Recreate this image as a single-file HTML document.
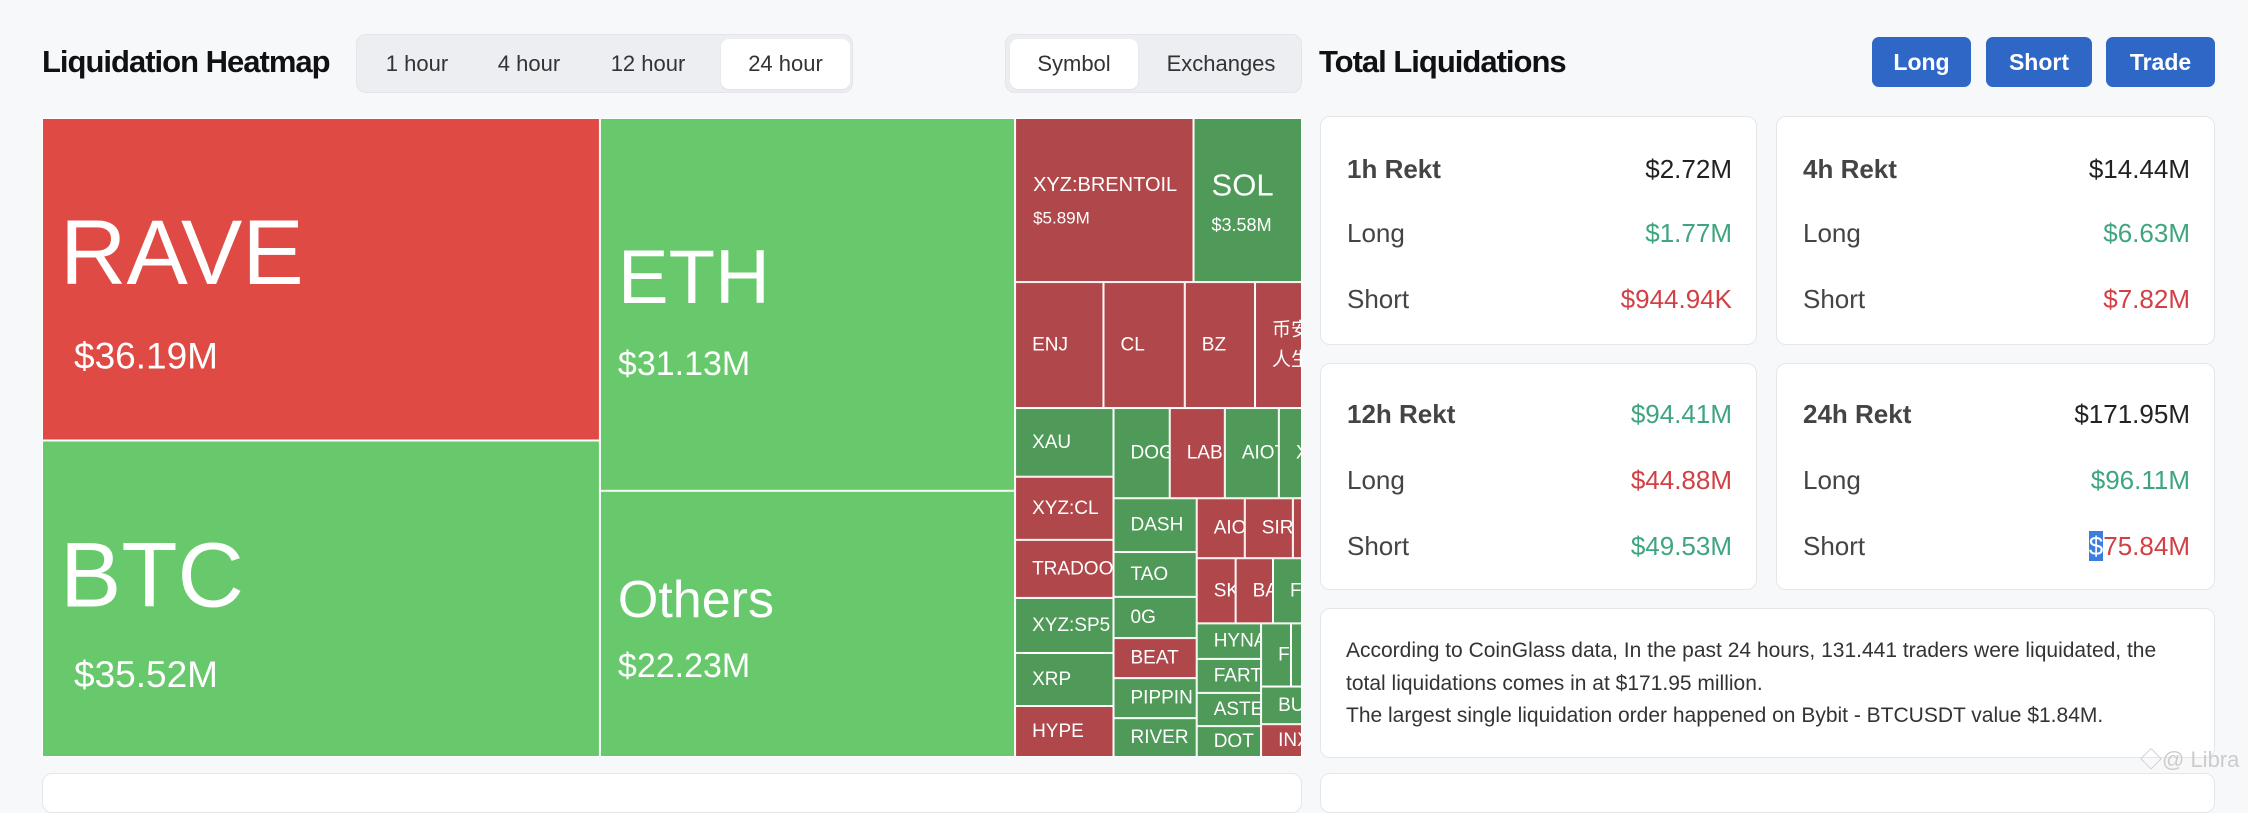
<!DOCTYPE html>
<html><head><meta charset="utf-8">
<style>
*{box-sizing:border-box;margin:0;padding:0}
body{width:2248px;height:780px;background:#f7f8fa;font-family:"Liberation Sans","Noto Sans CJK SC",sans-serif;position:relative;overflow:hidden;color:#222}
.abs{position:absolute}
.h1{font-size:31px;font-weight:bold;letter-spacing:-1px;color:#111}
.grp{background:#eceef2;border-radius:10px;border:1px solid #e3e5e9}
.tab{position:absolute;top:4px;height:50px;line-height:50px;text-align:center;font-size:22px;color:#333;border-radius:8px}
.tab.on{background:#fff;box-shadow:0 1px 2px rgba(0,0,0,.06)}
.btn{position:absolute;top:37px;height:50px;line-height:50px;text-align:center;background:#2f67c7;color:#fff;font-weight:bold;font-size:23px;border-radius:7px}
.card{position:absolute;background:#fff;border:1px solid #e4e6ea;border-radius:10px}
.row{position:absolute;left:26px;right:24px;font-size:26px;color:#444;height:34px;line-height:34px}
.row .v{position:absolute;right:0;top:0;font-weight:normal}
.g{color:#3fa57e}.r{color:#d24045}.k{color:#222}
.b{font-weight:bold}
.para{position:absolute;left:25px;top:26px;font-size:21px;line-height:32.5px;color:#333;width:835px}
</style></head><body>
<div class="abs h1" style="left:42px;top:44px">Liquidation Heatmap</div>
<div class="abs grp" style="left:356px;top:34px;width:497px;height:59px">
 <div class="tab" style="left:8px;width:104px">1 hour</div>
 <div class="tab" style="left:120px;width:104px">4 hour</div>
 <div class="tab" style="left:235px;width:112px">12 hour</div>
 <div class="tab on" style="left:364px;width:129px">24 hour</div>
</div>
<div class="abs grp" style="left:1005px;top:34px;width:297px;height:59px">
 <div class="tab on" style="left:4px;width:128px">Symbol</div>
 <div class="tab" style="left:140px;width:150px">Exchanges</div>
</div>
<svg class="abs" id="tm" style="left:42px;top:118px" width="1260" height="639"></svg>

<div class="abs h1" style="left:1319px;top:44px">Total Liquidations</div>
<div class="btn" style="left:1872px;width:99px">Long</div>
<div class="btn" style="left:1986px;width:106px">Short</div>
<div class="btn" style="left:2106px;width:109px">Trade</div>

<div class="card" style="left:1320px;top:116px;width:437px;height:229px">
 <div class="row b" style="top:35px"><span>1h Rekt</span><span class="v k">$2.72M</span></div>
 <div class="row" style="top:99px"><span>Long</span><span class="v g">$1.77M</span></div>
 <div class="row" style="top:165px"><span>Short</span><span class="v r">$944.94K</span></div>
</div>
<div class="card" style="left:1776px;top:116px;width:439px;height:229px">
 <div class="row b" style="top:35px"><span>4h Rekt</span><span class="v k">$14.44M</span></div>
 <div class="row" style="top:99px"><span>Long</span><span class="v g">$6.63M</span></div>
 <div class="row" style="top:165px"><span>Short</span><span class="v r">$7.82M</span></div>
</div>
<div class="card" style="left:1320px;top:363px;width:437px;height:227px">
 <div class="row b" style="top:33px"><span>12h Rekt</span><span class="v g">$94.41M</span></div>
 <div class="row" style="top:99px"><span>Long</span><span class="v r">$44.88M</span></div>
 <div class="row" style="top:165px"><span>Short</span><span class="v g">$49.53M</span></div>
</div>
<div class="card" style="left:1776px;top:363px;width:439px;height:227px">
 <div class="row b" style="top:33px"><span>24h Rekt</span><span class="v k">$171.95M</span></div>
 <div class="row" style="top:99px"><span>Long</span><span class="v g">$96.11M</span></div>
 <div class="row" style="top:165px"><span>Short</span><span class="v r"><span style="background:#3b7de0;color:#fff">$</span>75.84M</span></div>
</div>
<div class="card" style="left:1320px;top:608px;width:895px;height:150px">
 <div class="para">According to CoinGlass data, In the past 24 hours, 131.441 traders were liquidated, the total liquidations comes in at $171.95 million.<br>The largest single liquidation order happened on Bybit - BTCUSDT value $1.84M.</div>
</div>
<div class="card" style="left:42px;top:773px;width:1260px;height:40px"></div>
<div class="card" style="left:1320px;top:773px;width:895px;height:40px"></div>
<div class="abs" style="left:2140px;top:742px;font-size:22px;color:#ccc">◇@ Libra</div>

<script>
const cellNames=["RAVE","BTC","ETH","Others","XYZ:BRENTOIL","SOL","ENJ","CL","BZ","币安人生","XAU","XYZ:CL","TRADOOR","XYZ:SP500","XRP","HYPE","DOGE","LAB","AIOT","X","DASH","TAO","0G","BEAT","PIPPIN","RIVER","AIO","SIREN","R","SKY","BARD","FF","HYNA","FARTCOIN","ASTER","DOT","F1","F2","BUSD","INX"];
const cellValues=[36.19,35.52,31.13,22.23,5.89,3.58,2.24,2.06,1.78,1.19,1.36,1.25,1.15,1.09,1.05,1.01,1.02,1.00,0.98,0.42,0.90,0.75,0.69,0.67,0.67,0.65,0.58,0.58,0.11,0.51,0.49,0.38,0.46,0.44,0.43,0.40,0.38,0.14,0.31,0.27];
const cellSide=["s","l","l","l","s","l","s","s","s","s","l","s","s","l","l","s","l","s","l","l","l","l","l","s","l","l","s","s","s","s","s","l","l","l","l","l","l","l","l","s"];
const showValue=["RAVE","BTC","ETH","Others","XYZ:BRENTOIL","SOL"];
const rest=["h",[["v",[32,33,34,35]],["v",[["h",[36,37]],38,39]]]];
const colB=["v",[["h",[26,27,28]],["h",[29,30,31]],rest]];
const colA=["v",[20,21,22,23,24,25]];
const rightR=["v",[["h",[16,17,18,19]],["h",[colA,colB]]]];
const row3=["h",[["v",[10,11,12,13,14,15]],rightR]];
const col3=["v",[["h",[4,5]],["h",[6,7,8,9]],row3]];
const layoutTree=["h",[["v",[0,1]],["v",[2,3]],col3]];
const big={RAVE:[92,166,37,238,32],BTC:[92,166,37,234,32],ETH:[76,185,34,246,18],Others:[52,126,34,175,18]};
const svg=document.getElementById('tm');const NS='http://www.w3.org/2000/svg';
function sum(n){return typeof n==='number'?cellValues[n]:n[1].reduce((a,c)=>a+sum(c),0);}
function layout(n,x,y,w,h){
 if(typeof n==='number'){draw(n,x,y,w,h);return;}
 const tot=sum(n);let off=0;
 n[1].forEach(c=>{const f=sum(c)/tot;
  if(n[0]==='h'){layout(c,x+off,y,w*f,h);off+=w*f;}else{layout(c,x,y+off,w,h*f);off+=h*f;}});
}
function color(i){const bright=cellValues[i]>20;return cellSide[i]==='s'?(bright?'#e04a45':'#b0474a'):(bright?'#67c96b':'#4f9a58');}
function draw(i,x,y,w,h){
 const g=document.createElementNS(NS,'svg');
 g.setAttribute('x',x);g.setAttribute('y',y);g.setAttribute('width',w);g.setAttribute('height',h);
 
 
 const r=document.createElementNS(NS,'rect');
 r.setAttribute('x',0);r.setAttribute('y',0);r.setAttribute('width',w);r.setAttribute('height',h);
 r.setAttribute('fill',color(i));r.setAttribute('stroke','#fff');r.setAttribute('stroke-width',2);
 g.appendChild(r);
 const name=cellNames[i];const val='$'+cellValues[i].toFixed(2)+'M';
 function t(str,tx,ty,fs,base){const e=document.createElementNS(NS,'text');e.setAttribute('x',tx);e.setAttribute('y',ty);e.setAttribute('font-size',fs);e.setAttribute('fill','#fff');e.setAttribute('font-family','"Liberation Sans","Noto Sans CJK SC",sans-serif');if(base)e.setAttribute('dominant-baseline','central');e.textContent=str;g.appendChild(e);}
 if(big[name]){const b=big[name];t(name,18,b[1],b[0],false);t(val,b[4],b[3],b[2],true);}
 else if(showValue.indexOf(name)>=0){const fs=name==='SOL'?31:20;t(name,18,67,fs,true);t(val,18,name==='SOL'?107:100,name==='SOL'?18:17,true);}
 else if(/[\u4e00-\u9fff]/.test(name)){t(name.slice(0,2),17,h/2-15,19,true);t(name.slice(2),17,h/2+15,19,true);}
 else{t(name.length>6?name.slice(0,7):name,17,h/2,19,true);}
 svg.appendChild(g);
}
layout(layoutTree,0,0,1260,639);
</script>
</body></html>
